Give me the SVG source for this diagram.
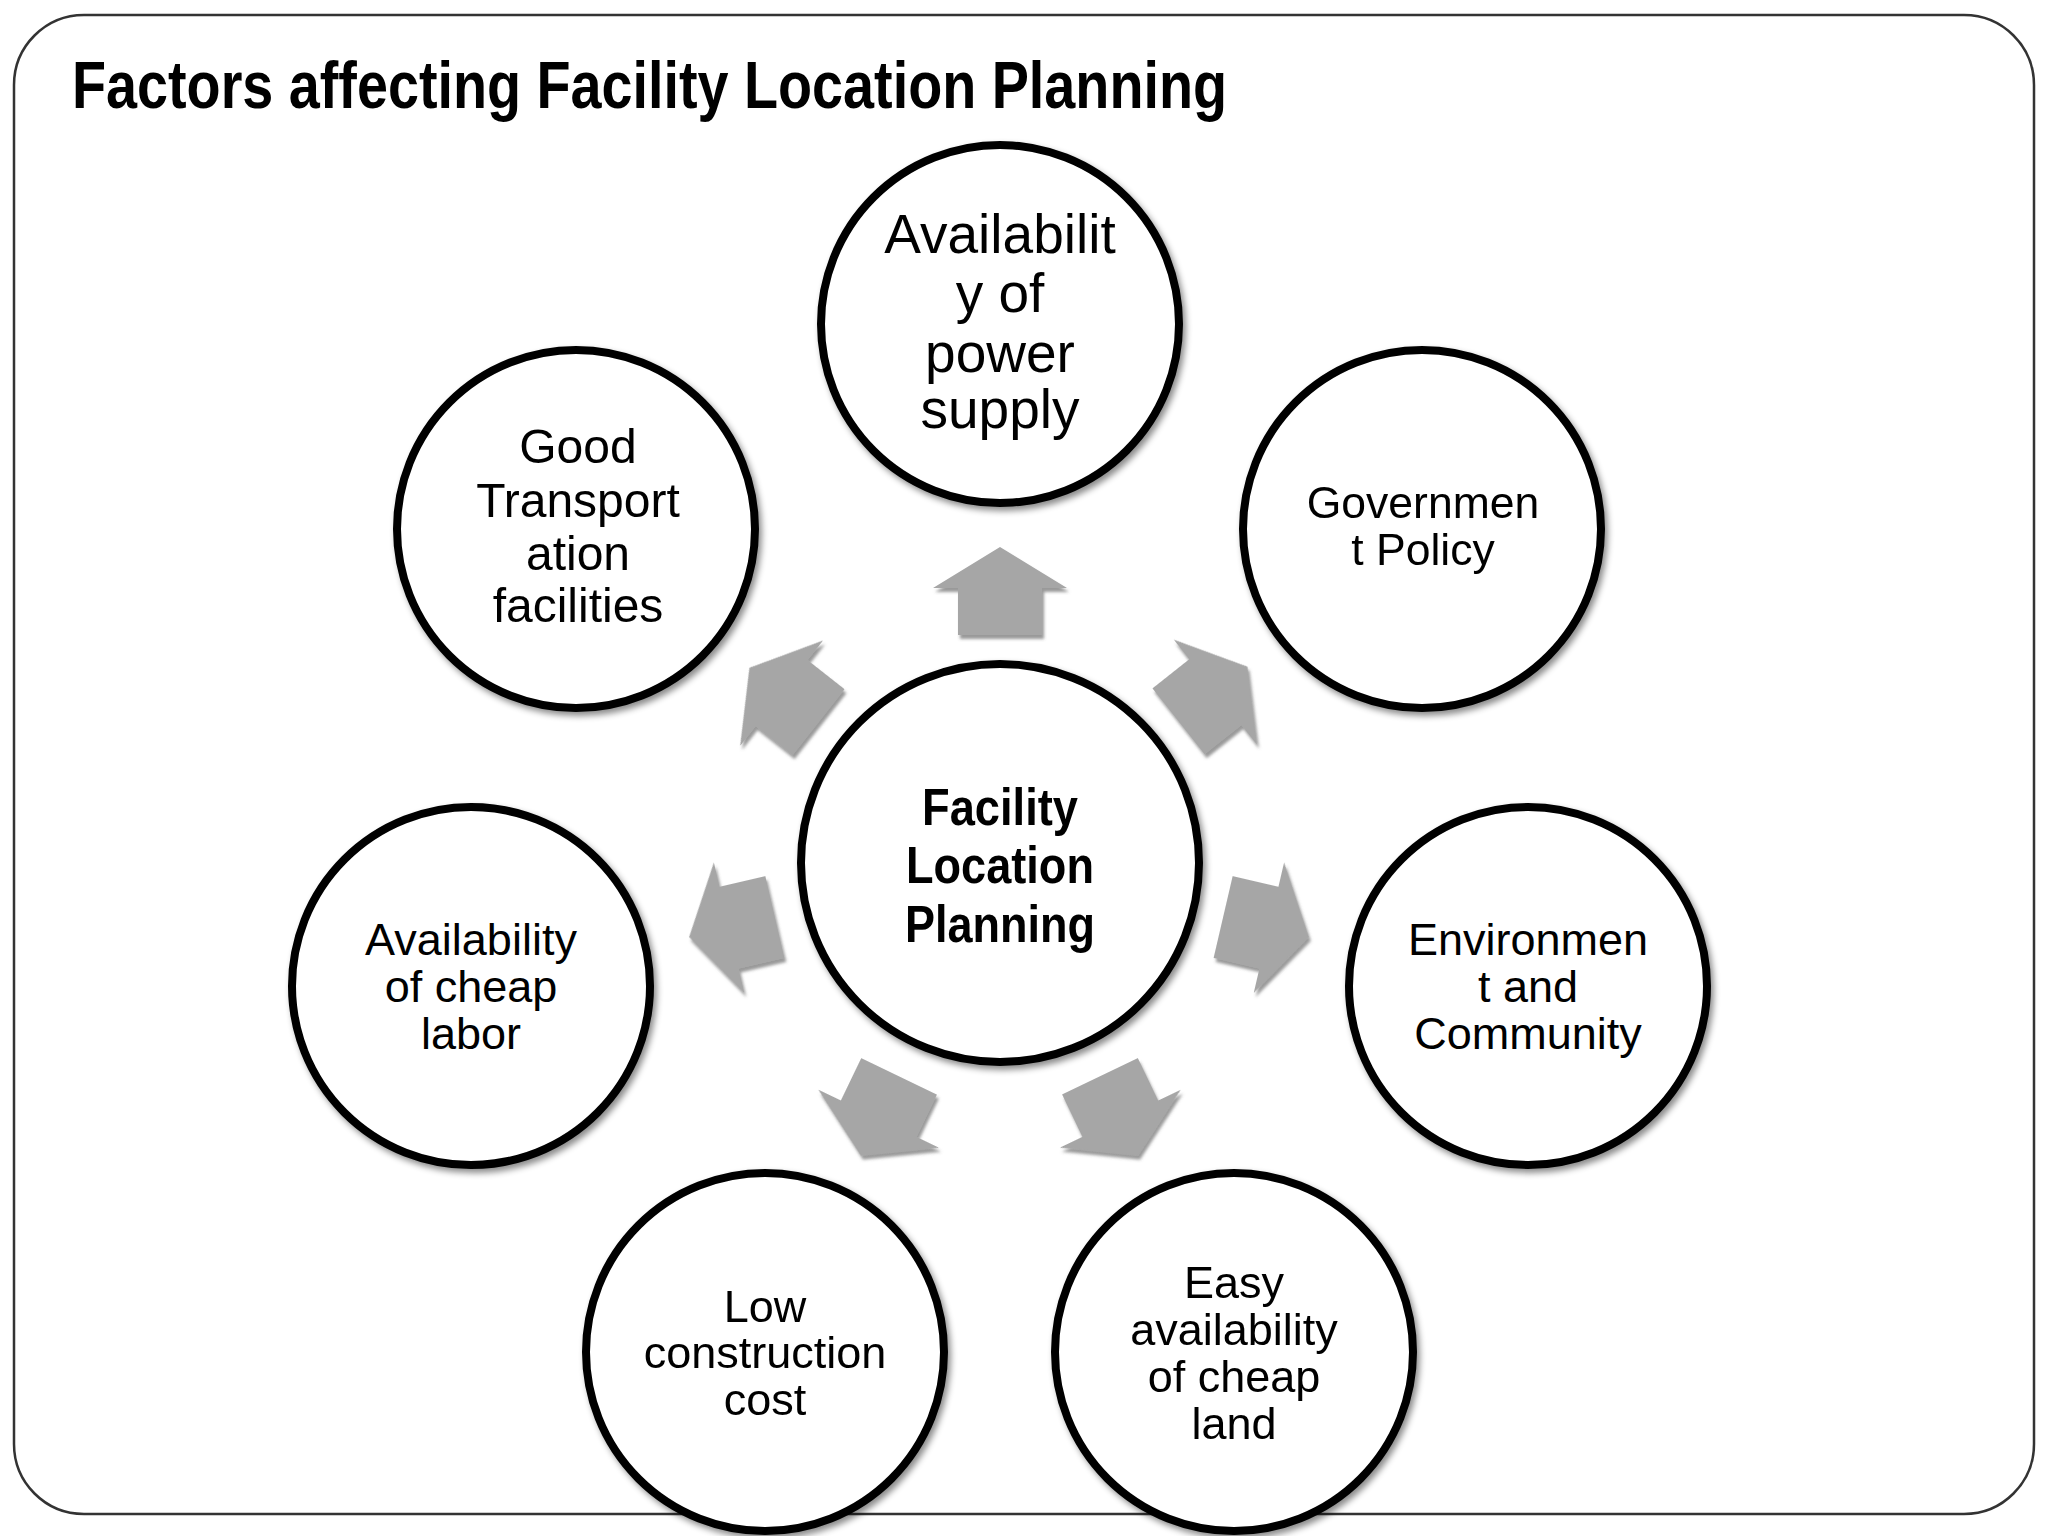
<svg xmlns="http://www.w3.org/2000/svg" width="2048" height="1536" viewBox="0 0 2048 1536">
<defs>
<filter id="cshadow" x="-20%" y="-20%" width="140%" height="140%">
<feDropShadow dx="3" dy="4" stdDeviation="3" flood-color="#000" flood-opacity="0.45"/>
</filter>
<filter id="ashadow" x="-10%" y="-10%" width="120%" height="120%">
<feDropShadow dx="2" dy="4" stdDeviation="1.5" flood-color="#555" flood-opacity="0.6"/>
</filter>
<path id="arrow" d="M0,-44 L67,-3 L42,-3 L42,44 L-42,44 L-42,-3 L-67,-3 Z"/>
</defs>
<style>
.node circle{fill:#fff;stroke:#000;stroke-width:8;filter:url(#cshadow)}
.lbl{font-family:"Liberation Sans",Arial,sans-serif;fill:#000;text-anchor:middle}
.bold{font-family:"Liberation Sans",Arial,sans-serif;font-weight:bold;fill:#000}
.arr{fill:#a6a6a6}
</style>
<rect x="14" y="15" width="2020" height="1499" rx="70" ry="70" fill="#fff" stroke="#333" stroke-width="2.5"/>
<text class="bold" x="72" y="108" font-size="67" textLength="1155" lengthAdjust="spacingAndGlyphs">Factors affecting Facility Location Planning</text>

<g id="connectors" filter="url(#ashadow)">
<use href="#arrow" class="arr" transform="translate(1000,591)"/>
<use href="#arrow" class="arr" transform="translate(1213,694) rotate(51.6)"/>
<use href="#arrow" class="arr" transform="translate(1266,927) rotate(103.1)"/>
<use href="#arrow" class="arr" transform="translate(1119,1116) rotate(154.4)"/>
<use href="#arrow" class="arr" transform="translate(880,1116) rotate(205.7)"/>
<use href="#arrow" class="arr" transform="translate(732,927) rotate(256.9)"/>
<use href="#arrow" class="arr" transform="translate(784,695) rotate(308.2)"/>
</g>

<g id="node-center" class="node">
<circle cx="1000" cy="863" r="199"/>
<text class="bold" text-anchor="middle" font-size="52"><tspan x="1000" y="825" textLength="156" lengthAdjust="spacingAndGlyphs">Facility</tspan><tspan x="1000" y="883" textLength="188" lengthAdjust="spacingAndGlyphs">Location</tspan><tspan x="1000" y="942" textLength="190" lengthAdjust="spacingAndGlyphs">Planning</tspan></text>
</g>

<g id="node-power" class="node">
<circle cx="1000" cy="324" r="179"/>
<text class="lbl" font-size="55"><tspan x="1000" y="253">Availabilit</tspan><tspan x="1000" y="312">y of</tspan><tspan x="1000" y="372">power</tspan><tspan x="1000" y="428">supply</tspan></text>
</g>

<g id="node-transport" class="node">
<circle cx="576" cy="529" r="179"/>
<text class="lbl" font-size="48"><tspan x="578" y="463">Good</tspan><tspan x="578" y="517">Transport</tspan><tspan x="578" y="570">ation</tspan><tspan x="578" y="622">facilities</tspan></text>
</g>

<g id="node-government" class="node">
<circle cx="1422" cy="529" r="179"/>
<text class="lbl" font-size="44.5"><tspan x="1423" y="518">Governmen</tspan><tspan x="1423" y="565">t Policy</tspan></text>
</g>

<g id="node-labor" class="node">
<circle cx="471" cy="986" r="179"/>
<text class="lbl" font-size="45"><tspan x="471" y="955">Availability</tspan><tspan x="471" y="1002">of cheap</tspan><tspan x="471" y="1049">labor</tspan></text>
</g>

<g id="node-environment" class="node">
<circle cx="1528" cy="986" r="179"/>
<text class="lbl" font-size="45"><tspan x="1528" y="955">Environmen</tspan><tspan x="1528" y="1002">t and</tspan><tspan x="1528" y="1049">Community</tspan></text>
</g>

<g id="node-construction" class="node">
<circle cx="765" cy="1352" r="179"/>
<text class="lbl" font-size="45"><tspan x="765" y="1322">Low</tspan><tspan x="765" y="1368">construction</tspan><tspan x="765" y="1415">cost</tspan></text>
</g>

<g id="node-land" class="node">
<circle cx="1234" cy="1352" r="179"/>
<text class="lbl" font-size="45"><tspan x="1234" y="1298">Easy</tspan><tspan x="1234" y="1345">availability</tspan><tspan x="1234" y="1392">of cheap</tspan><tspan x="1234" y="1439">land</tspan></text>
</g>
</svg>
